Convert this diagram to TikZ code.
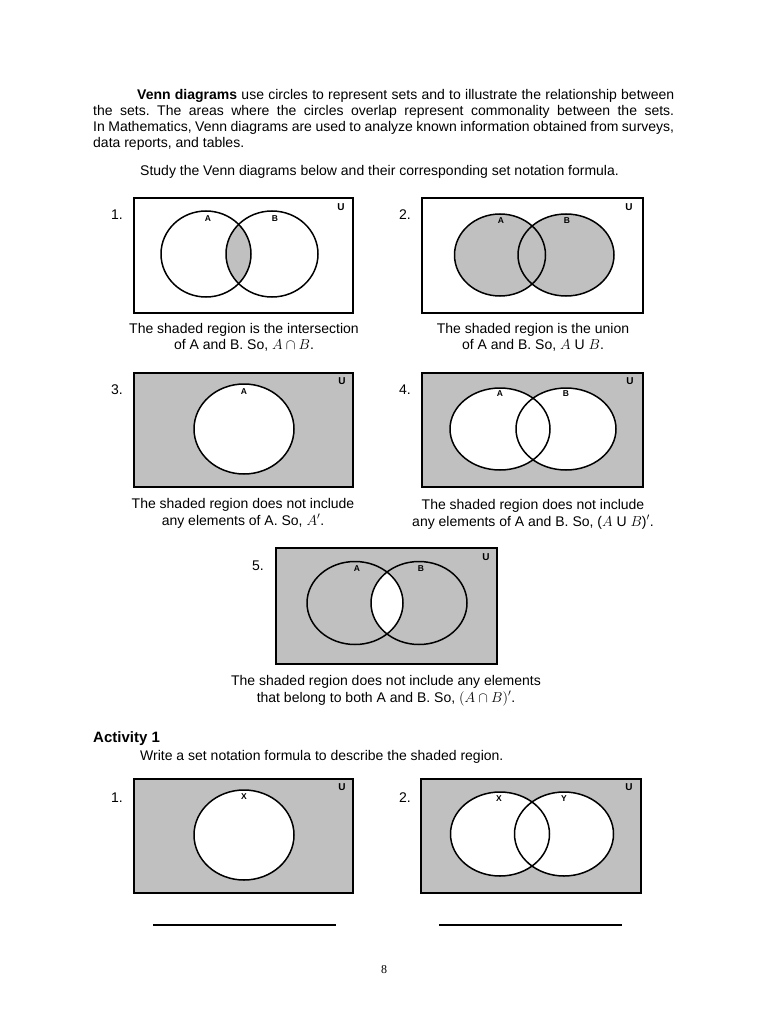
\documentclass[tikz,border=0pt]{standalone}
\usepackage{fontspec}
\setmainfont{Liberation Sans}
\newfontfamily\pagenumfont{Liberation Serif}
\definecolor{shadegray}{RGB}{192,192,192}
\frenchspacing
\tikzset{
  frame/.style={line width=1.6pt},
  setline/.style={line width=1.5pt},
  body/.style={font=\fontsize{14}{16}\selectfont, inner sep=0pt},
  headtxt/.style={font=\bfseries\fontsize{15}{17}\selectfont, inner sep=0pt},
  setlab/.style={font=\bfseries\fontsize{8.5}{9}\selectfont, inner sep=0pt},
  ulab/.style={font=\bfseries\fontsize{10}{10}\selectfont, inner sep=0pt},
  ansline/.style={line width=1.5pt},
}
\begin{document}
\begin{tikzpicture}[x=1pt,y=-1pt]
\useasboundingbox (0,0) rectangle (768,1024);
\fill[white] (0,0) rectangle (768,1024);

% ---------- introduction ----------
\node[body, anchor=base west] (p1) at (137,100) {\makebox[537pt][s]{\textbf{Venn diagrams} use circles to represent sets and to illustrate the relationship between}};
\node[body, anchor=base west] (p2) at (93,116) {\makebox[581pt][s]{the sets. The areas where the circles overlap represent commonality between the sets.}};
\node[body, anchor=base west] (p3) at (93,132) {\makebox[581pt][s]{In Mathematics, Venn diagrams are used to analyze known information obtained from surveys,}};
\node[body, anchor=base west] (p4) at (93,148) {data reports, and tables.};
\node[body, anchor=base west] (study) at (140,176) {Study the Venn diagrams below and their corresponding set notation formula.};

% ---------- diagram 1: intersection ----------
\node[body, anchor=base] (n1) at (117,219) {1.};
\draw[frame] (134,198) rectangle (353,313);
\begin{scope}
  \clip (206,254) ellipse [x radius=45pt, y radius=43pt];
  \fill[shadegray] (272,254) ellipse [x radius=46pt, y radius=43pt];
\end{scope}
\draw[setline] (206,254) ellipse [x radius=45pt, y radius=43pt];
\draw[setline] (272,254) ellipse [x radius=46pt, y radius=43pt];
\node[setlab] (a1) at (208,219) {A};
\node[setlab] (b1) at (275,219) {B};
\node[ulab] (u1) at (341,207) {U};
\node[body, anchor=base] (c1a) at (244,333) {The shaded region is the intersection};
\node[body, anchor=base] (c1b) at (244,349) {of A and B. So, $A\cap B$.};

% ---------- diagram 2: union ----------
\node[body, anchor=base] (n2) at (405,219) {2.};
\draw[frame] (422,198) rectangle (643,313);
\fill[shadegray] (500,255) ellipse [x radius=45.5pt, y radius=41pt];
\fill[shadegray] (566,255) ellipse [x radius=48pt, y radius=41pt];
\draw[setline] (500,255) ellipse [x radius=45.5pt, y radius=41pt];
\draw[setline] (566,255) ellipse [x radius=48pt, y radius=41pt];
\node[setlab] (a2) at (501,221) {A};
\node[setlab] (b2) at (567,221) {B};
\node[ulab] (u2) at (629,207) {U};
\node[body, anchor=base] (c2a) at (533,333) {The shaded region is the union};
\node[body, anchor=base] (c2b) at (533,349) {of A and B. So, $A$ U $B$.};

% ---------- diagram 3: complement of A ----------
\node[body, anchor=base] (n3) at (117,394) {3.};
\fill[shadegray] (134,373) rectangle (353,487);
\fill[white] (244,429) ellipse [x radius=50pt, y radius=45pt];
\draw[setline] (244,429) ellipse [x radius=50pt, y radius=45pt];
\draw[frame] (134,373) rectangle (353,487);
\node[setlab] (a3) at (244,392) {A};
\node[ulab] (u3) at (342,381) {U};
\node[body, anchor=base] (c3a) at (243,508) {The shaded region does not include};
\node[body, anchor=base] (c3b) at (243,525) {any elements of A. So, $A'$.};

% ---------- diagram 4: complement of union ----------
\node[body, anchor=base] (n4) at (405,394) {4.};
\fill[shadegray] (422,373) rectangle (643,487);
\fill[white] (500,429) ellipse [x radius=50pt, y radius=41pt];
\fill[white] (566,429) ellipse [x radius=50pt, y radius=41pt];
\draw[setline] (500,429) ellipse [x radius=50pt, y radius=41pt];
\draw[setline] (566,429) ellipse [x radius=50pt, y radius=41pt];
\draw[frame] (422,373) rectangle (643,487);
\node[setlab] (a4) at (500,394) {A};
\node[setlab] (b4) at (566,394) {B};
\node[ulab] (u4) at (630,381) {U};
\node[body, anchor=base] (c4a) at (533,509) {The shaded region does not include};
\node[body, anchor=base] (c4b) at (533,526) {any elements of A and B. So, ($A$ U $B$)$'$.};

% ---------- diagram 5: complement of intersection ----------
\node[body, anchor=base] (n5) at (258,570) {5.};
\fill[shadegray] (276,548) rectangle (497,664);
\begin{scope}
  \clip (355,603) ellipse [x radius=48pt, y radius=41.5pt];
  \fill[white] (419,603) ellipse [x radius=48pt, y radius=41.5pt];
\end{scope}
\draw[setline] (355,603) ellipse [x radius=48pt, y radius=41.5pt];
\draw[setline] (419,603) ellipse [x radius=48pt, y radius=41.5pt];
\draw[frame] (276,548) rectangle (497,664);
\node[setlab] (a5) at (357,569) {A};
\node[setlab] (b5) at (421,569) {B};
\node[ulab] (u5) at (486,557) {U};
\node[body, anchor=base] (c5a) at (386,685) {The shaded region does not include any elements};
\node[body, anchor=base] (c5b) at (386,702) {that belong to both A and B. So, $(A\cap B)'$.};

% ---------- Activity 1 ----------
\node[headtxt, anchor=base west] (act) at (93,742) {Activity 1};
\node[body, anchor=base west] (write) at (140,760) {Write a set notation formula to describe the shaded region.};

\node[body, anchor=base] (m1) at (117,802) {1.};
\fill[shadegray] (134,779) rectangle (353,893);
\fill[white] (244,835) ellipse [x radius=50pt, y radius=45pt];
\draw[setline] (244,835) ellipse [x radius=50pt, y radius=45pt];
\draw[frame] (134,779) rectangle (353,893);
\node[setlab] (x1) at (244,797) {X};
\node[ulab] (v1) at (342,787) {U};

\node[body, anchor=base] (m2) at (405,802) {2.};
\fill[shadegray] (421,779) rectangle (641,893);
\fill[white] (500,834) ellipse [x radius=49.5pt, y radius=42pt];
\fill[white] (564,834) ellipse [x radius=49.5pt, y radius=42pt];
\draw[setline] (500,834) ellipse [x radius=49.5pt, y radius=42pt];
\draw[setline] (564,834) ellipse [x radius=49.5pt, y radius=42pt];
\draw[frame] (421,779) rectangle (641,893);
\node[setlab] (x2) at (499,799) {X};
\node[setlab] (y2) at (564,799) {Y};
\node[ulab] (v2) at (629,787) {U};

\coordinate (l1s) at (153,925);
\coordinate (l1e) at (336,925);
\coordinate (l2s) at (439,925);
\coordinate (l2e) at (622,925);
\draw[ansline] (l1s) -- (l1e);
\draw[ansline] (l2s) -- (l2e);

\node[font=\pagenumfont\fontsize{12}{12}\selectfont, inner sep=0pt] (pg) at (384,970) {8};
\end{tikzpicture}
\end{document}
